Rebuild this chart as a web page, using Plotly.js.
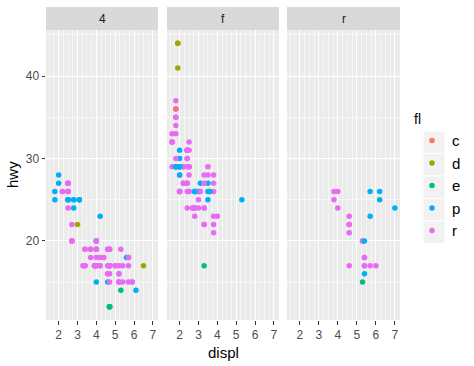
<!DOCTYPE html>
<html>
<head>
<meta charset="utf-8">
<script src="https://cdn.plot.ly/plotly-3.0.1.min.js"></script>
<style>html,body{margin:0;padding:0;background:#fff;}#chart{width:474px;height:366px;}</style>
</head>
<body>
<div id="chart"></div>
<script>
// ---- data (mpg: displ vs hwy, by drv facet, coloured by fl) ----
const facets = ["4", "f", "r"];
const flLevels = ["c", "d", "e", "p", "r"];
const flColors = ["#F8766D", "#A3A500", "#00BF7D", "#00B0F6", "#E76BF3"];

const displ_4 = [1.8,1.8,2.0,2.0,2.8,2.8,3.1,3.1,2.8,3.1,4.2, 5.3,5.3,5.7,6.5,
  3.7,3.7,3.9,3.9,4.7,4.7,4.7,5.2,5.2,3.9,4.7,4.7,4.7,5.2,5.2,5.7,5.9,4.7,4.7,4.7,4.7,4.7,5.2,5.2,5.7,5.9,
  4.0,4.0,4.0,4.0,4.6,5.0,4.2,4.2,4.6,4.6,4.6,5.4,5.4,
  3.0,3.7,4.0,4.7,4.7,4.7,5.7,6.1,4.0,4.2,4.4,4.6,
  4.0,4.0,4.6,5.0, 3.3,3.3,4.0,5.6,
  2.5,2.5,2.5,2.5,2.5,2.5,2.2,2.2,2.5,2.5,2.5,2.5,2.5,2.5,
  2.7,2.7,3.4,3.4,4.0,4.7, 4.7,5.7,2.7,2.7,2.7,3.4,3.4,4.0,4.0];
const hwy_4 = [26,25,28,27,25,25,25,25,24,25,23, 19,14,15,17,
  19,18,17,17,19,19,12,17,15,17,17,12,17,16,16,18,15,16,12,17,17,12,15,15,17,15,
  17,19,17,19,19,17,17,17,16,16,17,15,17,
  22,19,20,17,12,19,18,14,15,18,18,15,
  17,19,19,17, 17,17,20,18,
  25,24,27,26,25,27,26,26,26,26,25,27,25,27,
  20,20,19,17,20,17, 15,18,20,20,22,17,19,18,20];
const fl_4 = ("ppppppppppp" + "rerd" + "rrrrrrerrrrerrrrrrerrerrrr" + "rrrrrrrrrrrrr" +
  "drrrerrpprrp" + "rrrr" + "rrpp" + "rrrrprrrrrprpr" + "rrrrrr" + "rrrrrrrrr").split("");

const displ_f = [1.8,1.8,2.0,2.0,2.8,2.8,3.1,
  2.4,2.4,3.1,3.5,3.6,2.4,3.0,3.3,3.3,3.3,3.3,3.3,3.8,3.8,3.8,4.0,
  1.6,1.6,1.6,1.6,1.6,1.8,1.8,1.8,2.0,2.4,2.4,2.4,2.4,2.5,2.5,3.3,2.0,2.0,2.0,2.0,2.7,2.7,2.7,
  2.4,2.4,2.5,2.5,3.5,3.5,3.0,3.0,3.5,
  3.1,3.8,3.8,3.8,5.3,
  2.2,2.2,2.4,2.4,3.0,3.0,3.5,2.2,2.2,2.4,2.4,3.0,3.0,3.3,1.8,1.8,1.8,1.8,1.8,
  2.0,2.0,2.0,2.0,2.8,1.9,2.0,2.0,2.0,2.0,2.5,2.5,2.8,2.8,1.9,1.9,2.0,2.0,2.5,2.5,1.8,1.8,2.0,2.0,2.8,2.8,3.6];
const hwy_f = [29,29,31,30,26,26,27,
  27,30,26,29,26,24,24,22,22,24,24,17,22,21,23,23,
  33,32,32,29,32,34,36,36,29,26,27,30,31,26,26,28,26,29,28,29,24,24,24,
  29,27,31,32,27,26,26,25,25,
  26,26,27,28,25,
  29,27,31,31,26,26,28,27,29,31,31,26,26,27,30,33,35,37,35,
  29,26,29,29,24,44,29,26,29,29,29,29,23,24,44,41,29,26,28,29,29,29,28,29,26,26,26];
const fl_f = ("ppppppp" + "rrrrrrrrrrrerrrr" + "rrrrrrrcp" + "rrrrrrrrrrrrrr" +
  "rrrrpprrp" + "rrrrp" + "rrrrrrrrrrrrrrrrrrr" + "rrpprdrrpprrrrddrrrrppppppp").split("");

const displ_r = [5.3,5.3,5.3,5.7,6.0,5.7,5.7,6.2,6.2,7.0, 4.6,5.4,5.4,
  3.8,3.8,4.0,4.0,4.6,4.6,4.6,4.6,5.4, 5.4,5.4,5.4];
const hwy_r = [20,15,20,17,17,26,23,26,25,24, 17,17,18,
  26,25,26,24,21,22,23,22,20, 17,16,18];
const fl_r = ("rerrrppppp" + "rrr" + "rrrrrrrrp" + "rpr").split("");

// ---- layout helpers (pixel -> paper) ----
const W = 474, H = 366;
const px = v => v / W;
const py = v => (H - v) / H;
const panelsX = [[46, 158], [167, 279], [287, 400]];
const panelTop = 30, panelBottom = 320, stripTop = 7;

const colorOf = f => flColors[flLevels.indexOf(f)];
const facetData = [[displ_4, hwy_4, fl_4], [displ_f, hwy_f, fl_f], [displ_r, hwy_r, fl_r]];

const FONT = "Liberation Sans, Arial, sans-serif";
const traces = [];
facetData.forEach((d, i) => {
  const s = i === 0 ? "" : String(i + 1);
  traces.push({
    type: "scatter", mode: "markers",
    x: d[0], y: d[1],
    xaxis: "x" + s, yaxis: "y" + s,
    marker: { color: d[2].map(colorOf), size: 5.5, line: { width: 0 } },
    showlegend: false, hoverinfo: "skip"
  });
});
flLevels.forEach((f, k) => {
  traces.push({
    type: "scatter", mode: "markers", x: [null], y: [null],
    name: f, marker: { color: flColors[k], size: 5.5 },
    xaxis: "x", yaxis: "y", showlegend: true
  });
});

const xRange = [1.33, 7.27], yRange = [10.4, 45.6];
const layout = {
  width: W, height: H,
  margin: { l: 0, r: 0, t: 0, b: 0 },
  paper_bgcolor: "#FFFFFF", plot_bgcolor: "#EBEBEB",
  font: { family: FONT, size: 12, color: "#000" },
  showlegend: true,
  legend: {
    title: { text: "fl", font: { size: 14, color: "#000" } },
    x: px(412), xanchor: "left", y: py(106), yanchor: "top",
    font: { size: 15, color: "#000" }, bgcolor: "rgba(0,0,0,0)",
    traceorder: "normal", itemclick: false
  },
  shapes: [], annotations: []
};

panelsX.forEach((p, i) => {
  const s = i === 0 ? "" : String(i + 1);
  layout["xaxis" + s] = {
    domain: [px(p[0]), px(p[1])], range: xRange, anchor: "y" + s,
    dtick: 1, tick0: 0, ticks: "outside", ticklen: 3.5, tickwidth: 1, tickcolor: "#333333",
    showgrid: true, gridcolor: "#FFFFFF", gridwidth: 1.1, zeroline: false, showline: false,
    tickfont: { size: 12, color: "#4D4D4D" },
    minor: { dtick: 0.25, tick0: 0, showgrid: true, gridcolor: "#FFFFFF", gridwidth: 0.5 },
    fixedrange: true
  };
  layout["yaxis" + s] = {
    domain: [py(panelBottom), py(panelTop)], range: yRange, anchor: "x" + s,
    dtick: 10, tick0: 0, ticks: i === 0 ? "outside" : "", ticklen: 3.5, tickwidth: 1, tickcolor: "#333333",
    showticklabels: i === 0,
    showgrid: true, gridcolor: "#FFFFFF", gridwidth: 1.1, zeroline: false, showline: false,
    tickfont: { size: 12, color: "#4D4D4D" },
    minor: { dtick: 5, tick0: 0, showgrid: true, gridcolor: "#FFFFFF", gridwidth: 0.5 },
    fixedrange: true
  };
  // strip
  layout.shapes.push({
    type: "rect", xref: "paper", yref: "paper",
    x0: px(p[0]), x1: px(p[1]), y0: py(panelTop), y1: py(stripTop),
    fillcolor: "#D9D9D9", line: { width: 0 }, layer: "below"
  });
  layout.annotations.push({
    text: facets[i], xref: "paper", yref: "paper",
    x: px((p[0] + p[1]) / 2), y: py((panelTop + stripTop) / 2),
    xanchor: "center", yanchor: "middle", showarrow: false,
    font: { size: 12, color: "#1A1A1A" }
  });
});

// legend key backgrounds
for (let k = 0; k < flLevels.length; k++) {
  layout.shapes.push({
    type: "rect", xref: "paper", yref: "paper",
    x0: px(423), x1: px(445), y0: py(131 + 22.5 * (k + 1)), y1: py(131 + 22.5 * k),
    fillcolor: "#F2F2F2", line: { color: "#FFFFFF", width: 1 }, layer: "below"
  });
}

// axis titles
layout.annotations.push({
  text: "displ", xref: "paper", yref: "paper", x: px(223), y: py(352),
  xanchor: "center", yanchor: "middle", showarrow: false, font: { size: 15, color: "#000" }
});
layout.annotations.push({
  text: "hwy", xref: "paper", yref: "paper", x: px(12), y: py(175),
  xanchor: "center", yanchor: "middle", showarrow: false, textangle: -90,
  font: { size: 15, color: "#000" }
});

Plotly.newPlot("chart", traces, layout, { displayModeBar: false, staticPlot: true });
</script>
</body>
</html>
